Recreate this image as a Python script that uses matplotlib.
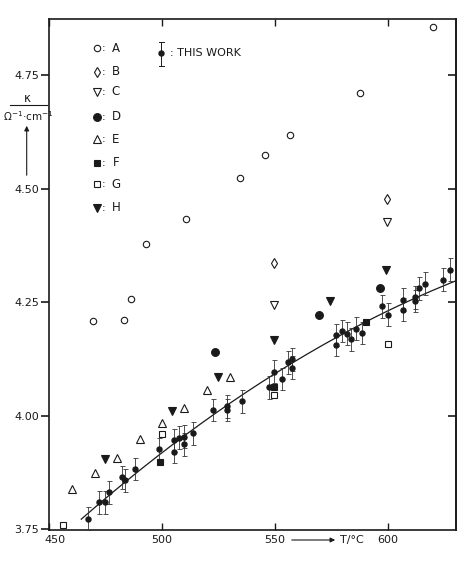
import numpy as np
import matplotlib
matplotlib.use("Agg")
import matplotlib.pyplot as plt
import matplotlib.transforms as mtransforms

plt.rcParams['font.family'] = ['DejaVu Sans']

# ---- data ----
A_T = [469.5, 483.3, 486.4, 493.0, 510.9, 534.7, 545.6, 556.9, 587.8, 619.9]
A_k = [4.209, 4.211, 4.258, 4.378, 4.433, 4.523, 4.574, 4.619, 4.712, 4.857]
B_T = [549.7, 599.8]
B_k = [4.336, 4.477]
C_T = [549.6, 599.8]
C_k = [4.245, 4.426]
D_T = [523.7, 569.6, 596.6]
D_k = [4.141, 4.221, 4.281]
E_T = [460.4, 470.5, 480.2, 490.2, 500.3, 509.7, 519.8, 530.0]
E_k = [3.839, 3.874, 3.908, 3.948, 3.983, 4.016, 4.057, 4.085]
F_T = [499.0, 549.8, 590.3]
F_k = [3.898, 4.063, 4.206]
G_T = [456.3, 500.3, 549.8, 600.1]
G_k = [3.759, 3.960, 4.046, 4.159]
H_T = [474.9, 504.7, 524.8, 549.6, 574.6, 599.2]
H_k = [3.905, 4.011, 4.086, 4.167, 4.253, 4.321]

W_T = [467.2, 472.3, 474.9, 476.6, 482.4, 483.9, 488.0, 498.8,
       505.4, 505.4, 507.8, 509.8, 509.8, 513.8, 522.7, 529.0, 529.0, 535.6,
       547.2, 549.8, 553.2, 556.0, 557.5, 557.5,
       577.0, 577.0, 579.9, 581.9, 583.6, 585.9, 588.5, 597.3, 600.0,
       606.7, 606.7, 612.0, 612.0, 613.9, 616.5, 624.3, 627.5]
W_k = [3.773, 3.809, 3.809, 3.831, 3.864, 3.858, 3.883, 3.927,
       3.946, 3.921, 3.952, 3.954, 3.937, 3.961, 4.013, 4.021, 4.013, 4.032,
       4.063, 4.097, 4.081, 4.118, 4.124, 4.106,
       4.178, 4.156, 4.187, 4.181, 4.168, 4.192, 4.182, 4.241, 4.223,
       4.256, 4.234, 4.261, 4.253, 4.281, 4.291, 4.300, 4.322]
W_err = 0.025

# fitted curve
fit_T = [464.4, 504.0, 543.5, 574.3, 600.7, 630.0]
fit_k = [3.770, 3.938, 4.071, 4.163, 4.231, 4.299]

legend_labels = ['A', 'B', 'C', 'D', 'E', 'F', 'G', 'H']
xticks = [450, 500, 550, 600]
yticks = [3.75, 4.00, 4.25, 4.50, 4.75]

# ---- figure ----
FW, FH = 474, 563
fig = plt.figure(figsize=(FW / 100, FH / 100), dpi=100)
L, R, T, B = 48.7, 456.0, 19.0, 529.7
ax = fig.add_axes([L / FW, 1 - B / FH, (R - L) / FW, (B - T) / FH])
ax.set_xlim(450.4, 630.1)
ax.set_ylim(3.749, 4.874)

ink = '#1a1a1a'
for s in ax.spines.values():
    s.set_linewidth(1.2)
    s.set_color(ink)

# fit line
p = np.polyfit(fit_T, fit_k, 2)
tt = np.linspace(fit_T[0], fit_T[-1], 200)
ax.plot(tt, np.polyval(p, tt), color=ink, lw=0.9, zorder=2)

# this work
ax.errorbar(W_T, W_k, yerr=W_err, fmt='o', ms=3.6, color=ink, ecolor='#333333',
            elinewidth=0.6, capsize=1.8, capthick=0.6, zorder=3)

mk = dict(color=ink, linestyle='none', zorder=4)
styles = {
    'A': dict(marker='o', ms=4.6, mfc='white', mew=0.8),
    'B': dict(marker='d', ms=5.0, mfc='white', mew=0.8),
    'C': dict(marker='v', ms=5.6, mfc='white', mew=0.8),
    'D': dict(marker='o', ms=5.6, mfc=ink, mew=0.8),
    'E': dict(marker='^', ms=6.0, mfc='white', mew=0.8),
    'F': dict(marker='s', ms=4.6, mfc=ink, mew=0.8),
    'G': dict(marker='s', ms=4.6, mfc='white', mew=0.8),
    'H': dict(marker='v', ms=6.2, mfc=ink, mew=0.8),
}
series = {'A': (A_T, A_k), 'B': (B_T, B_k), 'C': (C_T, C_k), 'D': (D_T, D_k),
          'E': (E_T, E_k), 'F': (F_T, F_k), 'G': (G_T, G_k), 'H': (H_T, H_k)}
for name, (xs, ys) in series.items():
    ax.plot(xs, ys, **styles[name], **mk)

# ticks
ax.set_xticks(xticks)
ax.set_xticklabels([str(v) for v in xticks])
ax.set_yticks(yticks)
ax.set_yticklabels(['%.2f' % v for v in yticks])
ax.tick_params(axis='y', which='both', direction='out', length=6, width=1.2,
               labelsize=8, pad=1, colors=ink, right=False)
ax.tick_params(axis='x', which='both', direction='in', length=5, width=1.0,
               labelsize=8, pad=4, colors=ink, top=True)
# shift the "450" label slightly right like the reference
lbl = ax.get_xticklabels()[0]
lbl.set_transform(lbl.get_transform() +
                  mtransforms.ScaledTranslation(6 / 100, 0, fig.dpi_scale_trans))

# right-hand inward ticks
sec = ax.secondary_yaxis('right')
sec.set_yticks(yticks[1:])
sec.tick_params(direction='in', length=6, width=1.2, labelright=False, colors=ink)
sec.spines['right'].set_linewidth(1.2)
sec.spines['right'].set_color(ink)

def fx(x):
    return x / FW

def fy(y):
    return 1 - y / FH

# legend
leg_y = [48.3, 71.7, 91.7, 116.7, 139.3, 162.7, 184.3, 207.7]
for name, yy in zip(legend_labels, leg_y):
    st = dict(styles[name])
    fig.lines.append(plt.Line2D([fx(96.7)], [fy(yy)], transform=fig.transFigure,
                                color=ink, linestyle='none', **st))
    fig.text(fx(104), fy(yy), ':', ha='center', va='center', fontsize=8, color=ink)
    fig.text(fx(116), fy(yy), name, ha='center', va='center', fontsize=8.5, color=ink)

# this work legend
fig.lines.append(plt.Line2D([fx(161), fx(161)], [fy(42.3), fy(65.7)],
                            transform=fig.transFigure, color=ink, lw=0.7))
for yy in (42.3, 65.7):
    fig.lines.append(plt.Line2D([fx(158.5), fx(163.5)], [fy(yy), fy(yy)],
                                transform=fig.transFigure, color=ink, lw=0.7))
fig.lines.append(plt.Line2D([fx(161)], [fy(53.3)], transform=fig.transFigure,
                            marker='o', ms=3.6, color=ink, linestyle='none'))
fig.text(fx(170), fy(53.3), ': THIS WORK', ha='left', va='center', fontsize=8, color=ink)

# y label (fraction with arrow)
fig.text(fx(27.7), fy(99), 'κ', ha='center', va='center', fontsize=8.5, color=ink)
fig.lines.append(plt.Line2D([fx(10), fx(46.7)], [fy(105), fy(105)],
                            transform=fig.transFigure, color=ink, lw=0.8))
fig.text(fx(28), fy(116), 'Ω$^{-1}$·cm$^{-1}$', ha='center', va='center',
         fontsize=7.5, color=ink)
fig.patches.append(matplotlib.patches.FancyArrowPatch(
    (fx(26.7), fy(178)), (fx(26.7), fy(123)), transform=fig.transFigure,
    arrowstyle='-|>', mutation_scale=7, color=ink, lw=0.8))

# x label arrow
fig.patches.append(matplotlib.patches.FancyArrowPatch(
    (fx(289), fy(540)), (fx(338), fy(540)), transform=fig.transFigure,
    arrowstyle='-|>', mutation_scale=7, color=ink, lw=0.8))
fig.text(fx(340), fy(540), 'T/°C', ha='left', va='center', fontsize=8, color=ink)

fig.savefig('out.png', dpi=100, facecolor='white')
